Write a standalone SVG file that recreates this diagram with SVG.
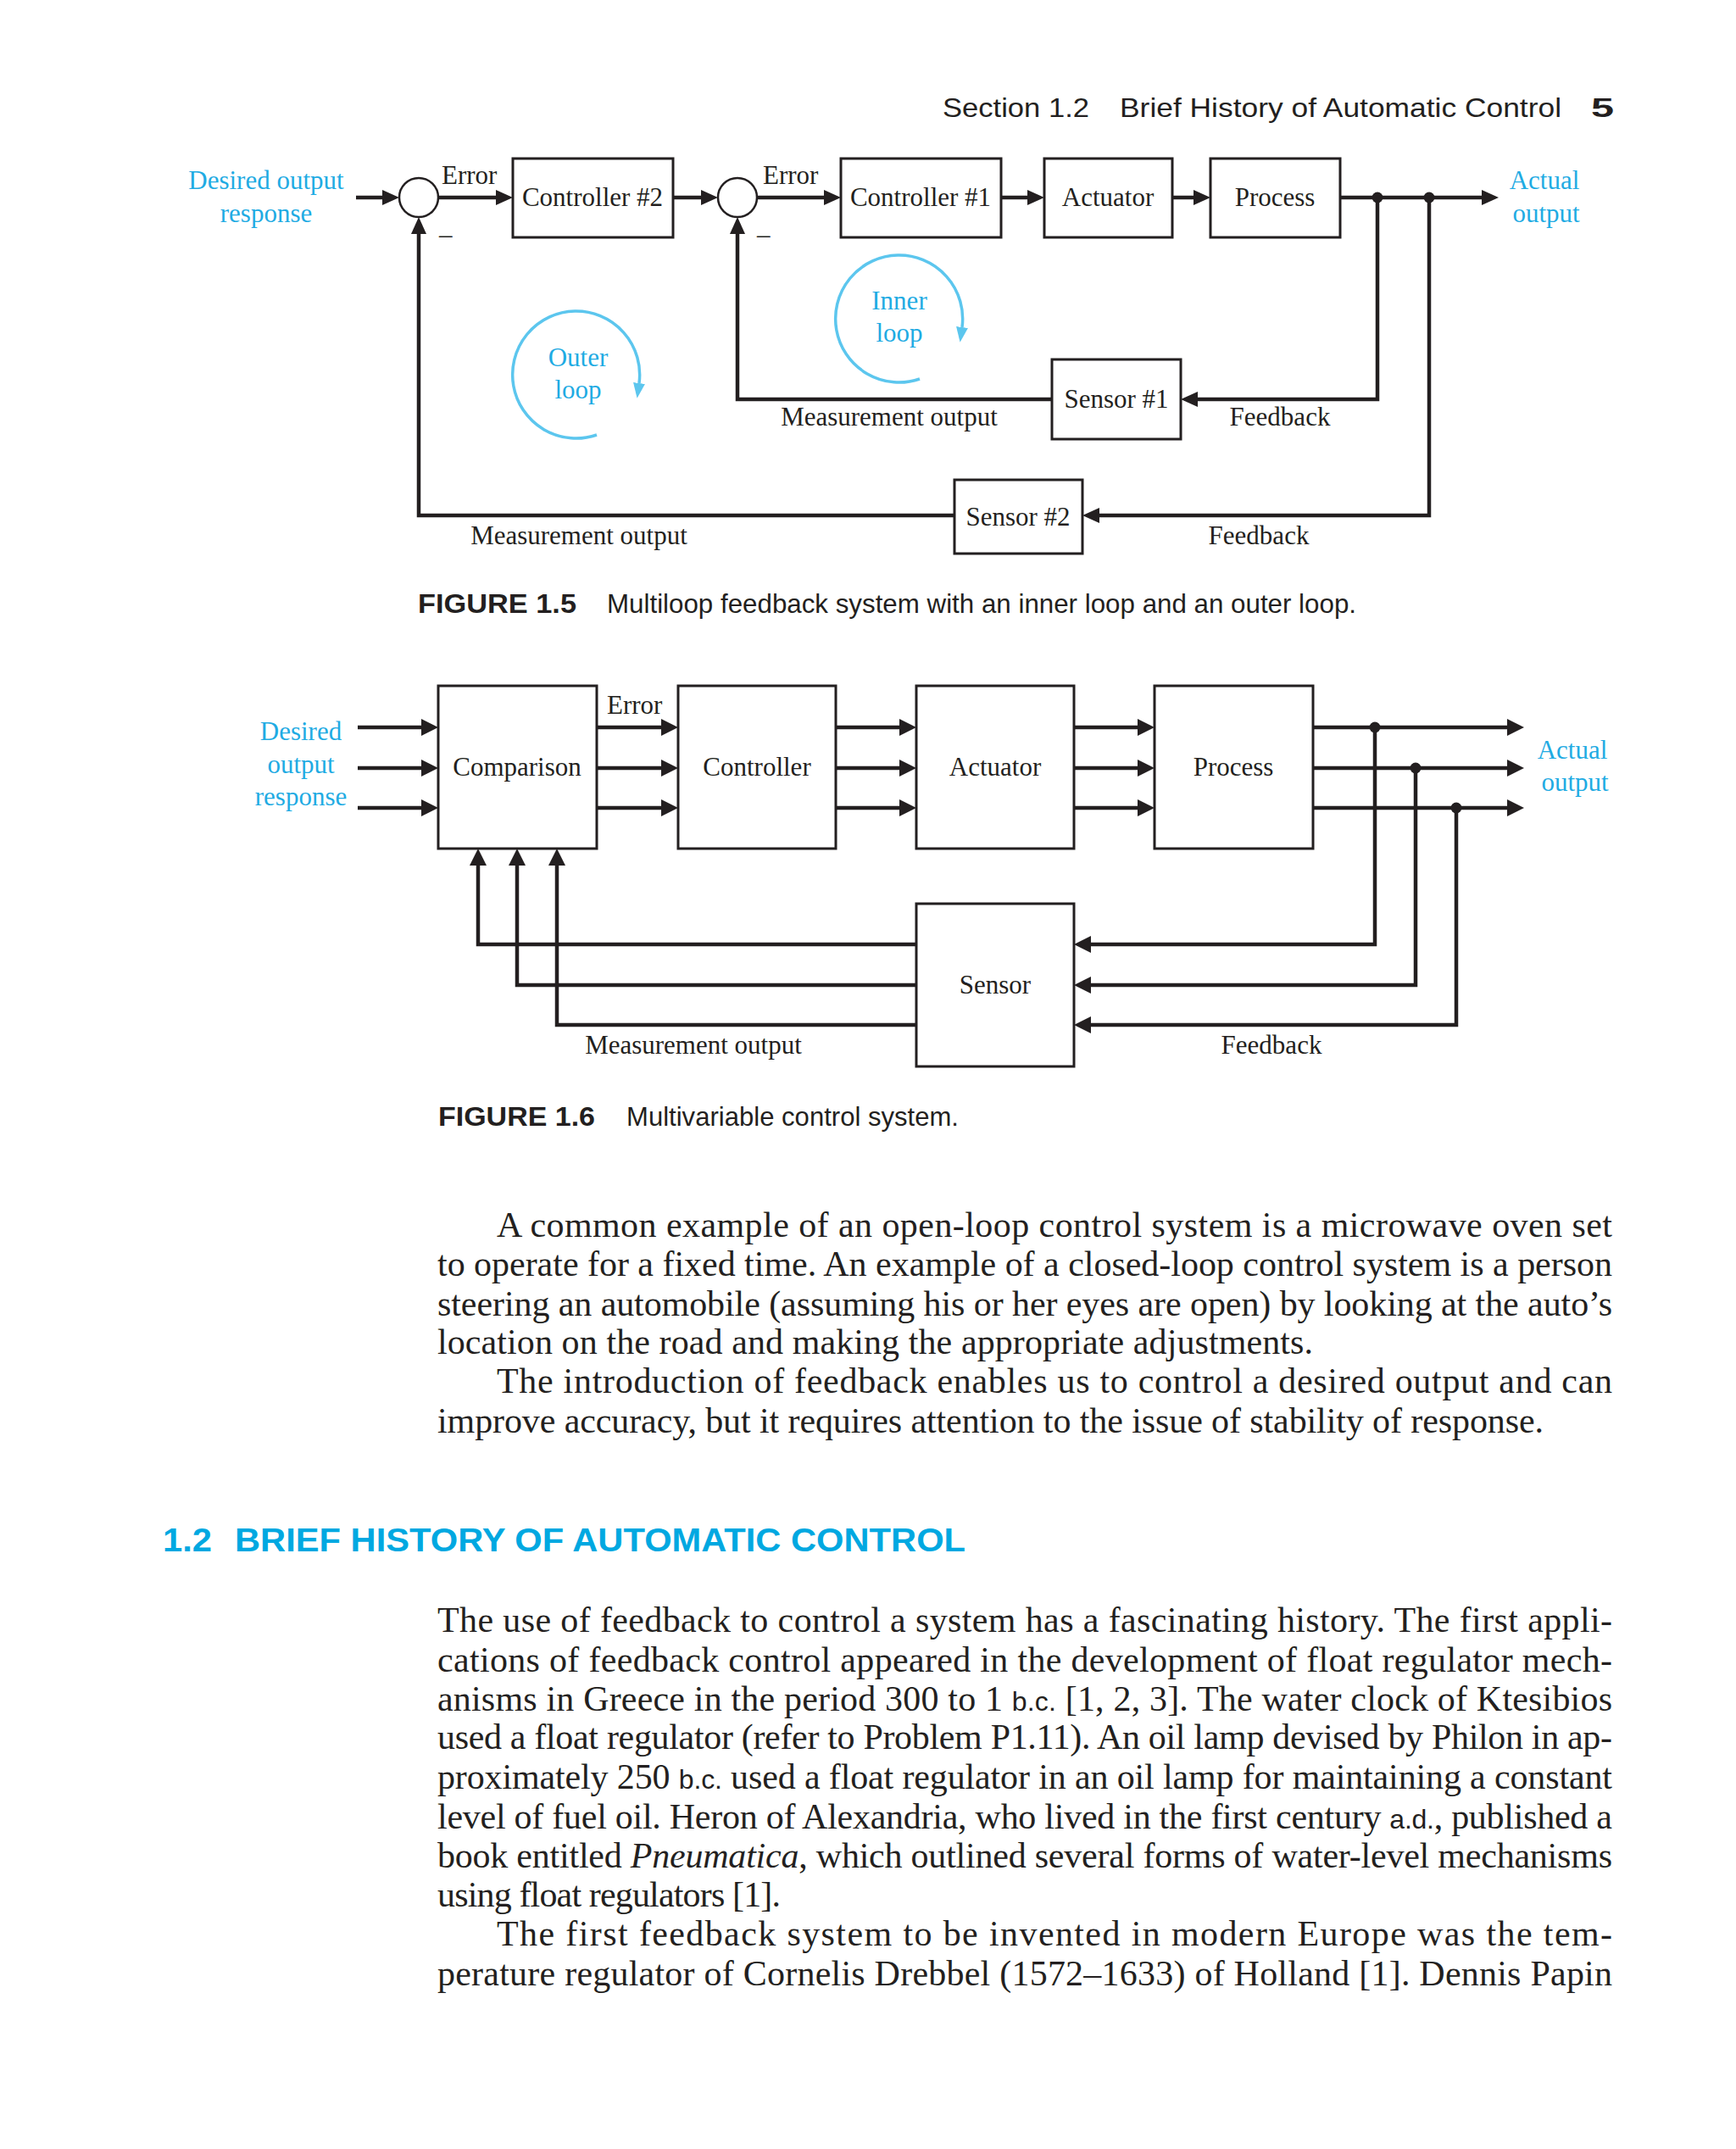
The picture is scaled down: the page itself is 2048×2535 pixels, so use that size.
<svg xmlns="http://www.w3.org/2000/svg" width="2048" height="2535" viewBox="0 0 2048 2535">
<defs>
<style>
.lbl{font-family:"Liberation Serif","Times New Roman",serif;font-size:31px;fill:#231f20}
.cy{font-family:"Liberation Serif","Times New Roman",serif;font-size:31px;fill:#1fabe3}
.box{fill:none;stroke:#231f20;stroke-width:3}
.ln{fill:none;stroke:#231f20;stroke-width:4.5;stroke-linejoin:miter}
.a1{marker-end:url(#ah1)}
.a2{marker-end:url(#ah2)}
.loop{fill:none;stroke:#5cc6ee;stroke-width:3.5;marker-end:url(#ahc)}
.body{font-family:"Liberation Serif","Times New Roman",serif;font-size:42px;fill:#231f20}
.sc{font-family:"Liberation Sans",Arial,sans-serif;font-size:32px}
.cap{font-family:"Liberation Sans",Arial,sans-serif;font-size:32px;fill:#231f20}
.capb{font-family:"Liberation Sans",Arial,sans-serif;font-size:32px;font-weight:bold;fill:#231f20}
.hd{font-family:"Liberation Sans",Arial,sans-serif;font-size:39px;font-weight:bold;fill:#00a8e1}
</style>
<marker id="ah1" markerUnits="userSpaceOnUse" markerWidth="20" markerHeight="18" viewBox="0 0 20 18" refX="9" refY="9" orient="auto"><path d="M0,0 L20,9 L0,18 z" fill="#231f20"/></marker>
<marker id="ah2" markerUnits="userSpaceOnUse" markerWidth="20" markerHeight="20" viewBox="0 0 20 20" refX="10" refY="10" orient="auto"><path d="M0,0 L20,10 L0,20 z" fill="#231f20"/></marker>
<marker id="ahc" markerUnits="userSpaceOnUse" markerWidth="18" markerHeight="14" viewBox="0 0 18 14" refX="0" refY="7" orient="auto"><path d="M0,0 L18,7 L0,14 z" fill="#5cc6ee"/></marker>
</defs>
<rect width="2048" height="2535" fill="#ffffff"/>

<!-- Header -->
<g id="header">
<text x="1112" y="138" class="cap" font-size="36" textLength="173" lengthAdjust="spacingAndGlyphs">Section 1.2</text>
<text x="1321" y="138" class="cap" font-size="36" textLength="521" lengthAdjust="spacingAndGlyphs">Brief History of Automatic Control</text>
<text x="1877" y="138" class="capb" font-size="44" textLength="27" lengthAdjust="spacingAndGlyphs">5</text>
</g>

<!-- FIGURE 1.5 -->
<g id="fig15-labels">
<text x="314" y="223" class="cy" text-anchor="middle">Desired output</text>
<text x="314" y="262" class="cy" text-anchor="middle">response</text>
<text x="1822" y="223" class="cy" text-anchor="middle">Actual</text>
<text x="1824" y="262" class="cy" text-anchor="middle">output</text>
<text x="521" y="217" class="lbl">Error</text>
<text x="900" y="217" class="lbl">Error</text>
<text x="518" y="287" class="lbl">–</text>
<text x="893" y="287" class="lbl">–</text>
<text x="1049" y="502" class="lbl" text-anchor="middle">Measurement output</text>
<text x="1510" y="502" class="lbl" text-anchor="middle">Feedback</text>
<text x="683" y="642" class="lbl" text-anchor="middle">Measurement output</text>
<text x="1485" y="642" class="lbl" text-anchor="middle">Feedback</text>
</g>
<g id="sum1"><circle cx="494" cy="233" r="23" fill="#fff" stroke="#231f20" stroke-width="2.5"/></g>
<g id="sum2"><circle cx="870" cy="233" r="23" fill="#fff" stroke="#231f20" stroke-width="2.5"/></g>
<g id="controller2"><rect x="605" y="187" width="189" height="93" class="box"/><text x="699" y="243" class="lbl" text-anchor="middle">Controller #2</text></g>
<g id="controller1"><rect x="992" y="187" width="189" height="93" class="box"/><text x="1086" y="243" class="lbl" text-anchor="middle">Controller #1</text></g>
<g id="actuator15"><rect x="1232" y="187" width="151" height="93" class="box"/><text x="1307" y="243" class="lbl" text-anchor="middle">Actuator</text></g>
<g id="process15"><rect x="1428" y="187" width="153" height="93" class="box"/><text x="1504" y="243" class="lbl" text-anchor="middle">Process</text></g>
<g id="sensor1"><rect x="1241" y="424" width="152" height="94" class="box"/><text x="1317" y="481" class="lbl" text-anchor="middle">Sensor #1</text></g>
<g id="sensor2"><rect x="1126" y="566" width="151" height="87" class="box"/><text x="1201" y="620" class="lbl" text-anchor="middle">Sensor #2</text></g>
<g id="innerloop">
<path d="M1085,447 A75,75 0 1 1 1135,386" class="loop"/>
<text x="1061" y="365" class="cy" text-anchor="middle">Inner</text>
<text x="1061" y="403" class="cy" text-anchor="middle">loop</text>
</g>
<g id="outerloop">
<path d="M704,513 A75,75 0 1 1 754,452" class="loop"/>
<text x="682" y="432" class="cy" text-anchor="middle">Outer</text>
<text x="682" y="470" class="cy" text-anchor="middle">loop</text>
</g>
<g id="fig15-connectors">
<path d="M420,233 H460" class="ln a1"/>
<path d="M517,233 H594" class="ln a1"/>
<path d="M794,233 H836" class="ln a1"/>
<path d="M893,233 H981" class="ln a1"/>
<path d="M1181,233 H1221" class="ln a1"/>
<path d="M1383,233 H1417" class="ln a1"/>
<path d="M1581,233 H1757" class="ln a1"/>
<path d="M1625,233 V471 H1404" class="ln a1"/>
<path d="M1241,471 H870 V267" class="ln a1"/>
<path d="M1686,233 V608 H1288" class="ln a1"/>
<path d="M1126,608 H494 V267" class="ln a1"/>
<circle cx="1625" cy="233" r="6.5" fill="#231f20"/>
<circle cx="1686" cy="233" r="6.5" fill="#231f20"/>
</g>
<g id="caption15">
<text x="493" y="723" class="capb" textLength="187" lengthAdjust="spacingAndGlyphs">FIGURE 1.5</text>
<text x="716" y="723" class="cap" textLength="884" lengthAdjust="spacingAndGlyphs">Multiloop feedback system with an inner loop and an outer loop.</text>
</g>

<!-- FIGURE 1.6 -->
<g id="fig16-labels">
<text x="355" y="873" class="cy" text-anchor="middle">Desired</text>
<text x="355" y="912" class="cy" text-anchor="middle">output</text>
<text x="355" y="950" class="cy" text-anchor="middle">response</text>
<text x="1855" y="895" class="cy" text-anchor="middle">Actual</text>
<text x="1858" y="933" class="cy" text-anchor="middle">output</text>
<text x="716" y="842" class="lbl">Error</text>
<text x="818" y="1243" class="lbl" text-anchor="middle">Measurement output</text>
<text x="1500" y="1243" class="lbl" text-anchor="middle">Feedback</text>
</g>
<g id="comparison"><rect x="517" y="809" width="187" height="192" class="box"/><text x="610" y="915" class="lbl" text-anchor="middle">Comparison</text></g>
<g id="controller"><rect x="800" y="809" width="186" height="192" class="box"/><text x="893" y="915" class="lbl" text-anchor="middle">Controller</text></g>
<g id="actuator16"><rect x="1081" y="809" width="186" height="192" class="box"/><text x="1174" y="915" class="lbl" text-anchor="middle">Actuator</text></g>
<g id="process16"><rect x="1362" y="809" width="187" height="192" class="box"/><text x="1455" y="915" class="lbl" text-anchor="middle">Process</text></g>
<g id="sensor"><rect x="1081" y="1066" width="186" height="192" class="box"/><text x="1174" y="1172" class="lbl" text-anchor="middle">Sensor</text></g>
<g id="fig16-connectors">
<path d="M422,858 H507" class="ln a2"/>
<path d="M422,906 H507" class="ln a2"/>
<path d="M422,953 H507" class="ln a2"/>
<path d="M704,858 H790" class="ln a2"/>
<path d="M704,906 H790" class="ln a2"/>
<path d="M704,953 H790" class="ln a2"/>
<path d="M986,858 H1071" class="ln a2"/>
<path d="M986,906 H1071" class="ln a2"/>
<path d="M986,953 H1071" class="ln a2"/>
<path d="M1267,858 H1352" class="ln a2"/>
<path d="M1267,906 H1352" class="ln a2"/>
<path d="M1267,953 H1352" class="ln a2"/>
<path d="M1549,858 H1788" class="ln a2"/>
<path d="M1549,906 H1788" class="ln a2"/>
<path d="M1549,953 H1788" class="ln a2"/>
<path d="M1622,858 V1114 H1277" class="ln a2"/>
<path d="M1670,906 V1162 H1277" class="ln a2"/>
<path d="M1718,953 V1209 H1277" class="ln a2"/>
<path d="M1081,1114 H564 V1011" class="ln a2"/>
<path d="M1081,1162 H610 V1011" class="ln a2"/>
<path d="M1081,1209 H657 V1011" class="ln a2"/>
<circle cx="1622" cy="858" r="6.5" fill="#231f20"/>
<circle cx="1670" cy="906" r="6.5" fill="#231f20"/>
<circle cx="1718" cy="953" r="6.5" fill="#231f20"/>
</g>
<g id="caption16">
<text x="517" y="1328" class="capb" textLength="185" lengthAdjust="spacingAndGlyphs">FIGURE 1.6</text>
<text x="739" y="1328" class="cap" textLength="392" lengthAdjust="spacingAndGlyphs">Multivariable control system.</text>
</g>

<!-- Body text -->
<g id="body1">
<text x="586" y="1459" class="body" textLength="1316" lengthAdjust="spacing">A common example of an open-loop control system is a microwave oven set</text>
<text x="516" y="1505" class="body" textLength="1386" lengthAdjust="spacing">to operate for a fixed time. An example of a closed-loop control system is a person</text>
<text x="516" y="1552" class="body" textLength="1386" lengthAdjust="spacing">steering an automobile (assuming his or her eyes are open) by looking at the auto’s</text>
<text x="516" y="1597" class="body" textLength="1033" lengthAdjust="spacing">location on the road and making the appropriate adjustments.</text>
<text x="586" y="1643" class="body" textLength="1316" lengthAdjust="spacing">The introduction of feedback enables us to control a desired output and can</text>
<text x="516" y="1690" class="body" textLength="1305" lengthAdjust="spacing">improve accuracy, but it requires attention to the issue of stability of response.</text>
</g>
<g id="heading">
<text x="192" y="1830" class="hd" textLength="58" lengthAdjust="spacingAndGlyphs">1.2</text>
<text x="277" y="1830" class="hd" textLength="862" lengthAdjust="spacingAndGlyphs">BRIEF HISTORY OF AUTOMATIC CONTROL</text>
</g>
<g id="body2">
<text x="516" y="1925" class="body" textLength="1386" lengthAdjust="spacing">The use of feedback to control a system has a fascinating history. The first appli-</text>
<text x="516" y="1972" class="body" textLength="1386" lengthAdjust="spacing">cations of feedback control appeared in the development of float regulator mech-</text>
<text x="516" y="2018" class="body" textLength="1386" lengthAdjust="spacing">anisms in Greece in the period 300 to 1 <tspan class="sc">b.c.</tspan> [1, 2, 3]. The water clock of Ktesibios</text>
<text x="516" y="2063" class="body" textLength="1386" lengthAdjust="spacing">used a float regulator (refer to Problem P1.11). An oil lamp devised by Philon in ap-</text>
<text x="516" y="2110" class="body" textLength="1386" lengthAdjust="spacing">proximately 250 <tspan class="sc">b.c.</tspan> used a float regulator in an oil lamp for maintaining a constant</text>
<text x="516" y="2157" class="body" textLength="1386" lengthAdjust="spacing">level of fuel oil. Heron of Alexandria, who lived in the first century <tspan class="sc">a.d.</tspan>, published a</text>
<text x="516" y="2203" class="body" textLength="1386" lengthAdjust="spacing">book entitled <tspan font-style="italic">Pneumatica</tspan>, which outlined several forms of water-level mechanisms</text>
<text x="516" y="2249" class="body" textLength="405" lengthAdjust="spacing">using float regulators [1].</text>
<text x="586" y="2295" class="body" textLength="1316" lengthAdjust="spacing">The first feedback system to be invented in modern Europe was the tem-</text>
<text x="516" y="2342" class="body" textLength="1386" lengthAdjust="spacing">perature regulator of Cornelis Drebbel (1572–1633) of Holland [1]. Dennis Papin</text>
</g>
</svg>
